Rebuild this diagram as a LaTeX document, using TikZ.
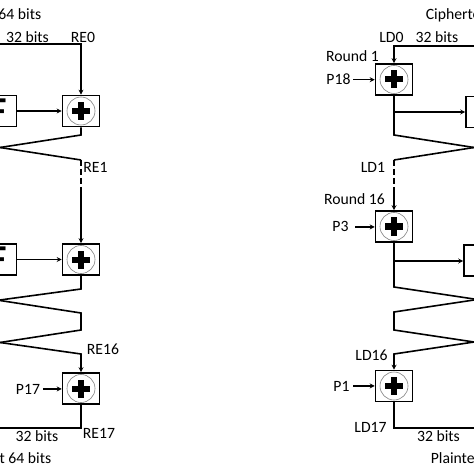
\documentclass[tikz,border=0pt]{standalone}
\usepackage{fontspec}
\setmainfont{Carlito}
\usetikzlibrary{arrows.meta, positioning, calc}
\tikzset{
	xorbox/.style={draw, minimum width=37bp, minimum height=31bp, inner sep=0pt,
		path picture={
			\draw[gray, line width=0.6bp] (path picture bounding box.center) circle (14bp);
			\fill ([shift={(-9bp,-3bp)}]path picture bounding box.center) rectangle ++(18bp,6bp);
			\fill ([shift={(-3bp,-9bp)}]path picture bounding box.center) rectangle ++(6bp,18bp);
		}},
	fbox/.style={draw, minimum width=37bp, minimum height=31bp, inner sep=0pt,
		font=\fontsize{38bp}{38bp}\selectfont\bfseries},
	lbl/.style={inner sep=0pt, anchor=base}
}

\begin{document}
\begin{tikzpicture}[x=1bp,y=-1bp,line width=1.6bp,>={Stealth[length=5bp,width=5bp]},
	font=\fontsize{15.7bp}{19bp}\selectfont]
	\useasboundingbox (0,0) rectangle (474,474);
	\clip (0,0) rectangle (474,474);

	% encryption
	\node[lbl,anchor=base east] (ptop) at (42,20) {Plaintext 64 bits};
	\node[lbl] (b32a) at (27.5,43) {32 bits};
	\node[lbl] (re0) at (83,43) {RE0};
	\node[xorbox] (xa) at (81,111) {};
	\node[fbox] (fa) at (-2,111) {F};
	\node[lbl] (re1l) at (95.5,173) {RE1};
	\node[xorbox] (xb) at (81,259.5) {};
	\node[fbox] (fb) at (-2,259.5) {F};
	\node[lbl] (re16) at (103,354) {RE16};
	\node[xorbox] (xc) at (81,388.5) {};
	\node[lbl] (p17) at (28,394) {P17};
	\node[lbl] (re17) at (99,438) {RE17};
	\node[lbl] (b32b) at (37,441) {32 bits};
	\node[lbl,anchor=base east] (cbot) at (52,463) {Ciphertext 64 bits};

	\coordinate (inL) at (-60,44);
	\coordinate (a1) at (81,135);   \coordinate (a1l) at (-81,160);
	\coordinate (a2l) at (-81,135); \coordinate (re1) at (81,160);
	\coordinate (re1d) at (81,192);
	\coordinate (b1) at (81,289);   \coordinate (b1l) at (-81,311);
	\coordinate (b2l) at (-81,288); \coordinate (b2) at (81,313);
	\coordinate (b3) at (81,330);   \coordinate (b3l) at (-81,355);
	\coordinate (b4l) at (-81,331); \coordinate (b4) at (81,354);
	\coordinate (c1) at (81,428);   \coordinate (outL) at (-60,428);

	\draw[->] (inL) -| (xa);
	\draw[->] (fa) -- (xa);
	\draw (xa) -- (a1) -- (a1l);
	\draw (a2l) -- (re1);
	\draw[dash pattern=on 6bp off 3bp] (re1) -- (re1d);
	\draw[->] (re1d) -- (xb);
	\draw[->] (fb) -- (xb);
	\draw (xb) -- (b1) -- (b1l);
	\draw (b2l) -- (b2) -- (b3) -- (b3l);
	\draw[->] (b4l) -- (b4) -- (xc);
	\draw[->] (p17.east) ++(2bp,0) -- (p17.east -| xc.west);
	\draw (xc) -- (c1) -- (outL);

	% decryption
	\node[lbl,anchor=base west] (ctop) at (425,20) {Ciphertext 64 bits};
	\node[lbl] (ld0) at (391.5,43) {LD0};
	\node[lbl] (b32c) at (437,43) {32 bits};
	\node[lbl] (rnd1) at (352.5,62) {Round 1};
	\node[xorbox] (xr1) at (394,79.5) {};
	\node[lbl] (p18) at (338.5,85) {P18};
	\node[fbox] (fr1) at (484.5,112) {F};
	\node[lbl] (ld1l) at (373,173) {LD1};
	\node[lbl] (rnd16) at (354.5,205) {Round 16};
	\node[xorbox] (xr2) at (394,226.5) {};
	\node[lbl] (p3) at (340.5,232) {P3};
	\node[fbox] (fr2) at (482.5,260.5) {F};
	\node[lbl] (ld16) at (371.5,360) {LD16};
	\node[xorbox] (xr3) at (394,386) {};
	\node[lbl] (p1) at (341.5,391) {P1};
	\node[lbl] (ld17) at (370.5,432) {LD17};
	\node[lbl] (b32d) at (438.5,441) {32 bits};
	\node[lbl,anchor=base west] (pbot) at (430,463) {Plaintext 64 bits};

	\coordinate (inR) at (540,46);
	\coordinate (r1b) at (394,112);
	\coordinate (r1) at (394,135);   \coordinate (r1r) at (554,160);
	\coordinate (r2r) at (554,135);  \coordinate (ld1) at (394,160);
	\coordinate (ld1d) at (394,192);
	\coordinate (s0) at (394,261);
	\coordinate (s1) at (394,287);   \coordinate (s1r) at (554,311);
	\coordinate (s2r) at (554,288);  \coordinate (s2) at (394,312);
	\coordinate (s3) at (394,330);   \coordinate (s3r) at (554,354);
	\coordinate (s4r) at (554,330);  \coordinate (s4) at (394,354);
	\coordinate (t1) at (394,428);   \coordinate (outR) at (540,428);

	\draw[->] (inR) -| (xr1);
	\draw[->] (p18.east) ++(2bp,0) -- (p18.east -| xr1.west);
	\draw (xr1) -- (r1) -- (r1r);
	\draw[->] (r1b) -- (r1b -| fr1.west);
	\draw (r2r) -- (ld1);
	\draw[dash pattern=on 6bp off 3bp] (ld1) -- (ld1d);
	\draw[->] (ld1d) -- (xr2);
	\draw[->] (p3.east) ++(6bp,0) -- (p3.east -| xr2.west);
	\draw (xr2) -- (s1) -- (s1r);
	\draw[->] (s0) -- (s0 -| fr2.west);
	\draw (s2r) -- (s2) -- (s3) -- (s3r);
	\draw[->] (s4r) -- (s4) -- (xr3);
	\draw[->] (p1.east) ++(3bp,0) -- (p1.east -| xr3.west);
	\draw (xr3) -- (t1) -- (outR);
\end{tikzpicture}
\end{document}
